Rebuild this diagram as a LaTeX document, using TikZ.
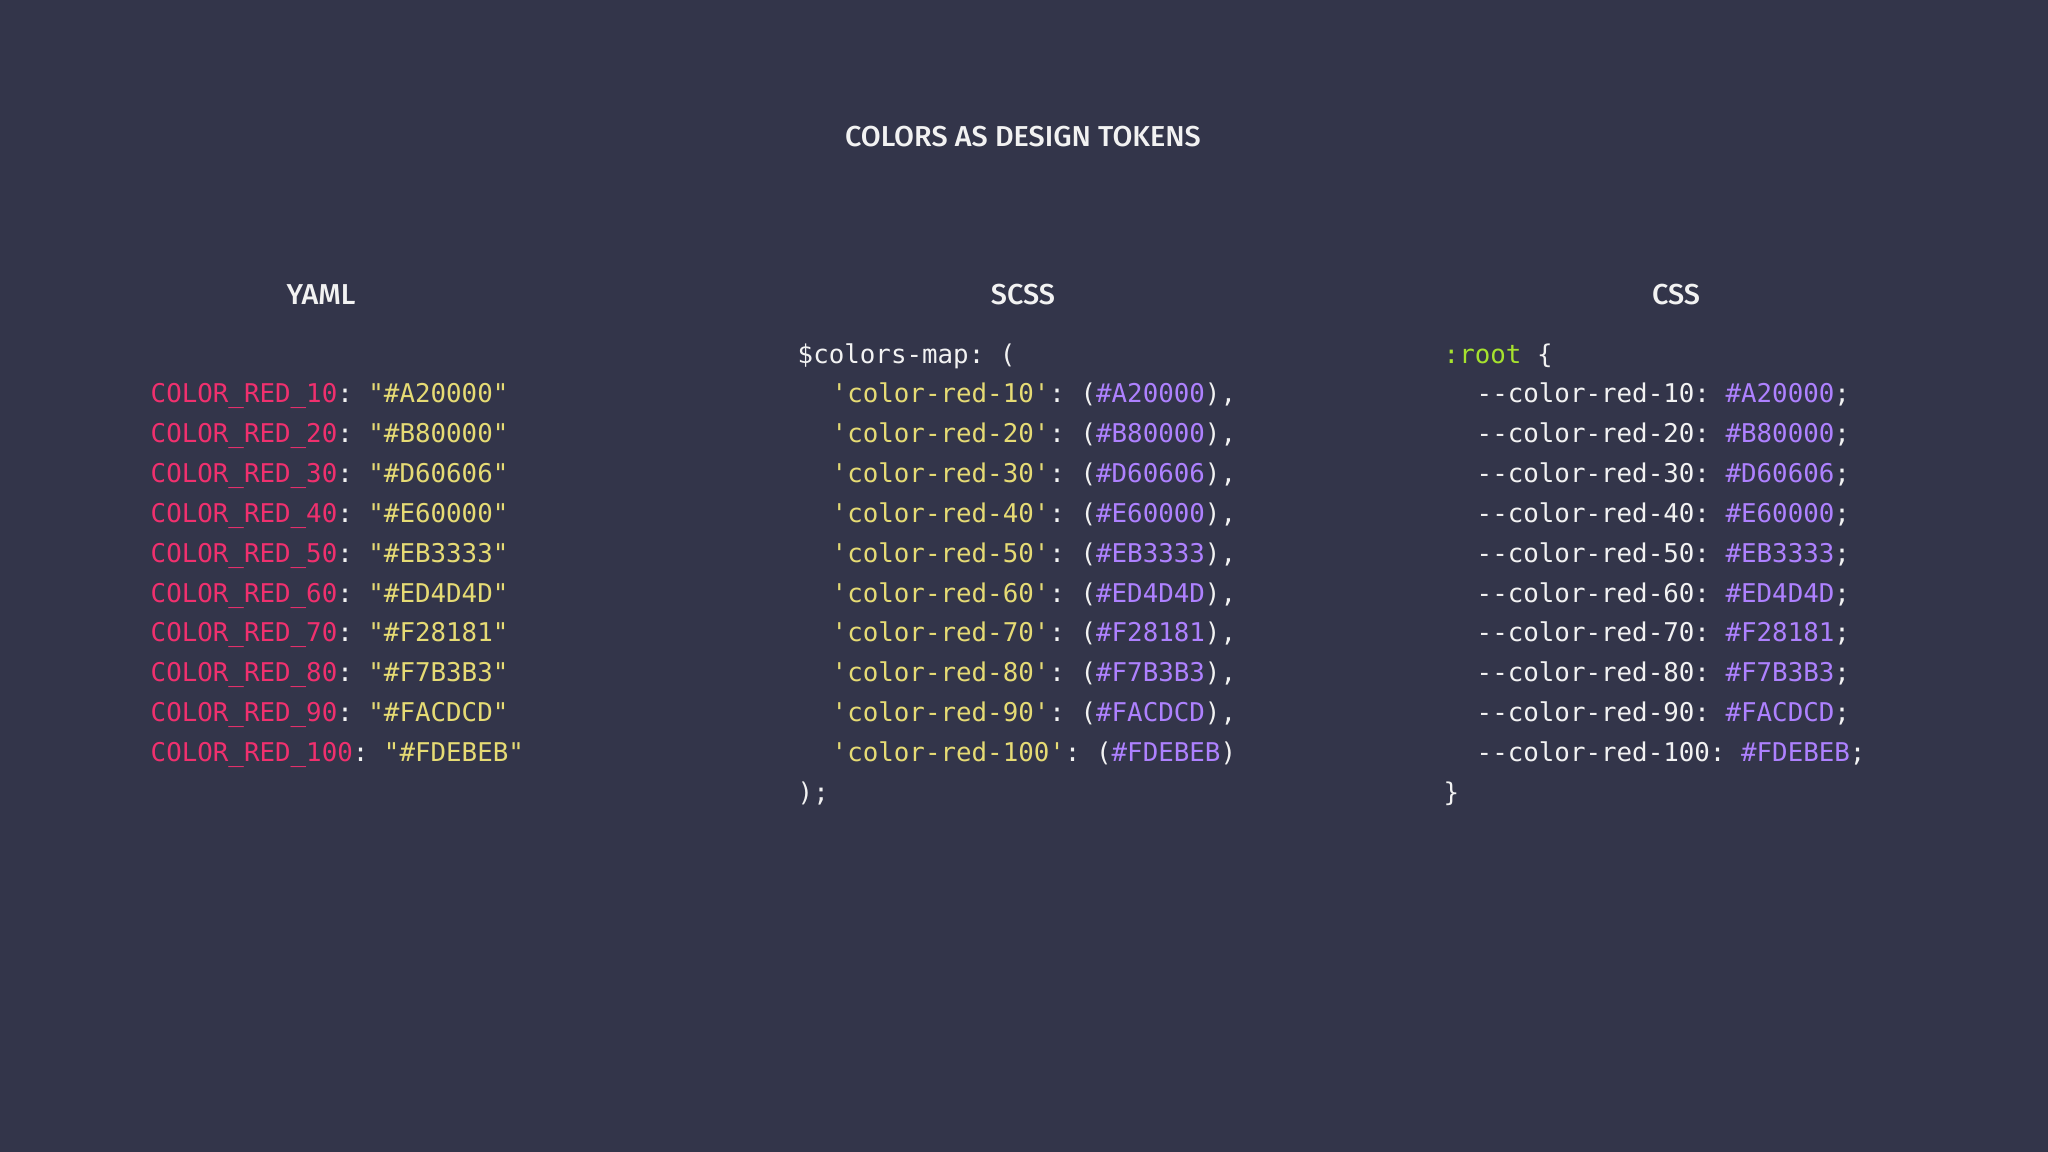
\documentclass[tikz,border=0pt]{standalone}
\usepackage{fontspec}
\setmonofont{DejaVu Sans Mono}
\newfontfamily\headfont{Fira Sans Medium}
\definecolor{bg}{HTML}{33354A}
\definecolor{pk}{HTML}{F0306E}
\definecolor{yl}{HTML}{E6DB74}
\definecolor{pu}{HTML}{AE81FF}
\definecolor{gr}{HTML}{A6E22E}
\definecolor{wt}{HTML}{F2F2F2}
\begin{document}
\begin{tikzpicture}[x=0.1mm,y=-0.1mm,
  code/.style={anchor=base west,inner sep=0,text=wt,font=\ttfamily\fontsize{7.35}{9}\selectfont},
  head/.style={anchor=base,inner sep=0,text=wt,font=\headfont\fontsize{8.2}{10}\selectfont}]
\fill[bg] (0,0) rectangle (2048,1152);
\useasboundingbox (0,0) rectangle (2048,1152);
\node[head] (title) at (1023,147) {COLORS AS DESIGN TOKENS};
\node[head] (hy) at (321,305) {YAML};
\node[head] (hs) at (1023,305) {SCSS};
\node[head] (hc) at (1676,305) {CSS};
\def\ly#1{\fpeval{(278+30.5*(#1))*1.306}}
\node[code] (s0) at (797,\ly{0}) {\$colors-map: (};
\node[code] (c0) at (1443,\ly{0}) {\textcolor{gr}{:root} \{};
\foreach \i/\n/\h in {1/10/A20000,2/20/B80000,3/30/D60606,4/40/E60000,5/50/EB3333,6/60/ED4D4D,7/70/F28181,8/80/F7B3B3,9/90/FACDCD} {
  \node[code] (y\i) at (150,\ly{\i}) {\textcolor{pk}{COLOR\_RED\_\n}: \textcolor{yl}{"\#\h"}};
  \node[code] (s\i) at (831,\ly{\i}) {\textcolor{yl}{'color-red-\n'}: (\textcolor{pu}{\#\h}),};
  \node[code] (c\i) at (1476,\ly{\i}) {--color-red-\n: \textcolor{pu}{\#\h};};
}
\node[code] (y10) at (150,\ly{10}) {\textcolor{pk}{COLOR\_RED\_100}: \textcolor{yl}{"\#FDEBEB"}};
\node[code] (s10) at (831,\ly{10}) {\textcolor{yl}{'color-red-100'}: (\textcolor{pu}{\#FDEBEB})};
\node[code] (c10) at (1476,\ly{10}) {--color-red-100: \textcolor{pu}{\#FDEBEB};};
\node[code] (s11) at (797,\ly{11}) {);};
\node[code] (c11) at (1443,\ly{11}) {\}};
\end{tikzpicture}
\end{document}
